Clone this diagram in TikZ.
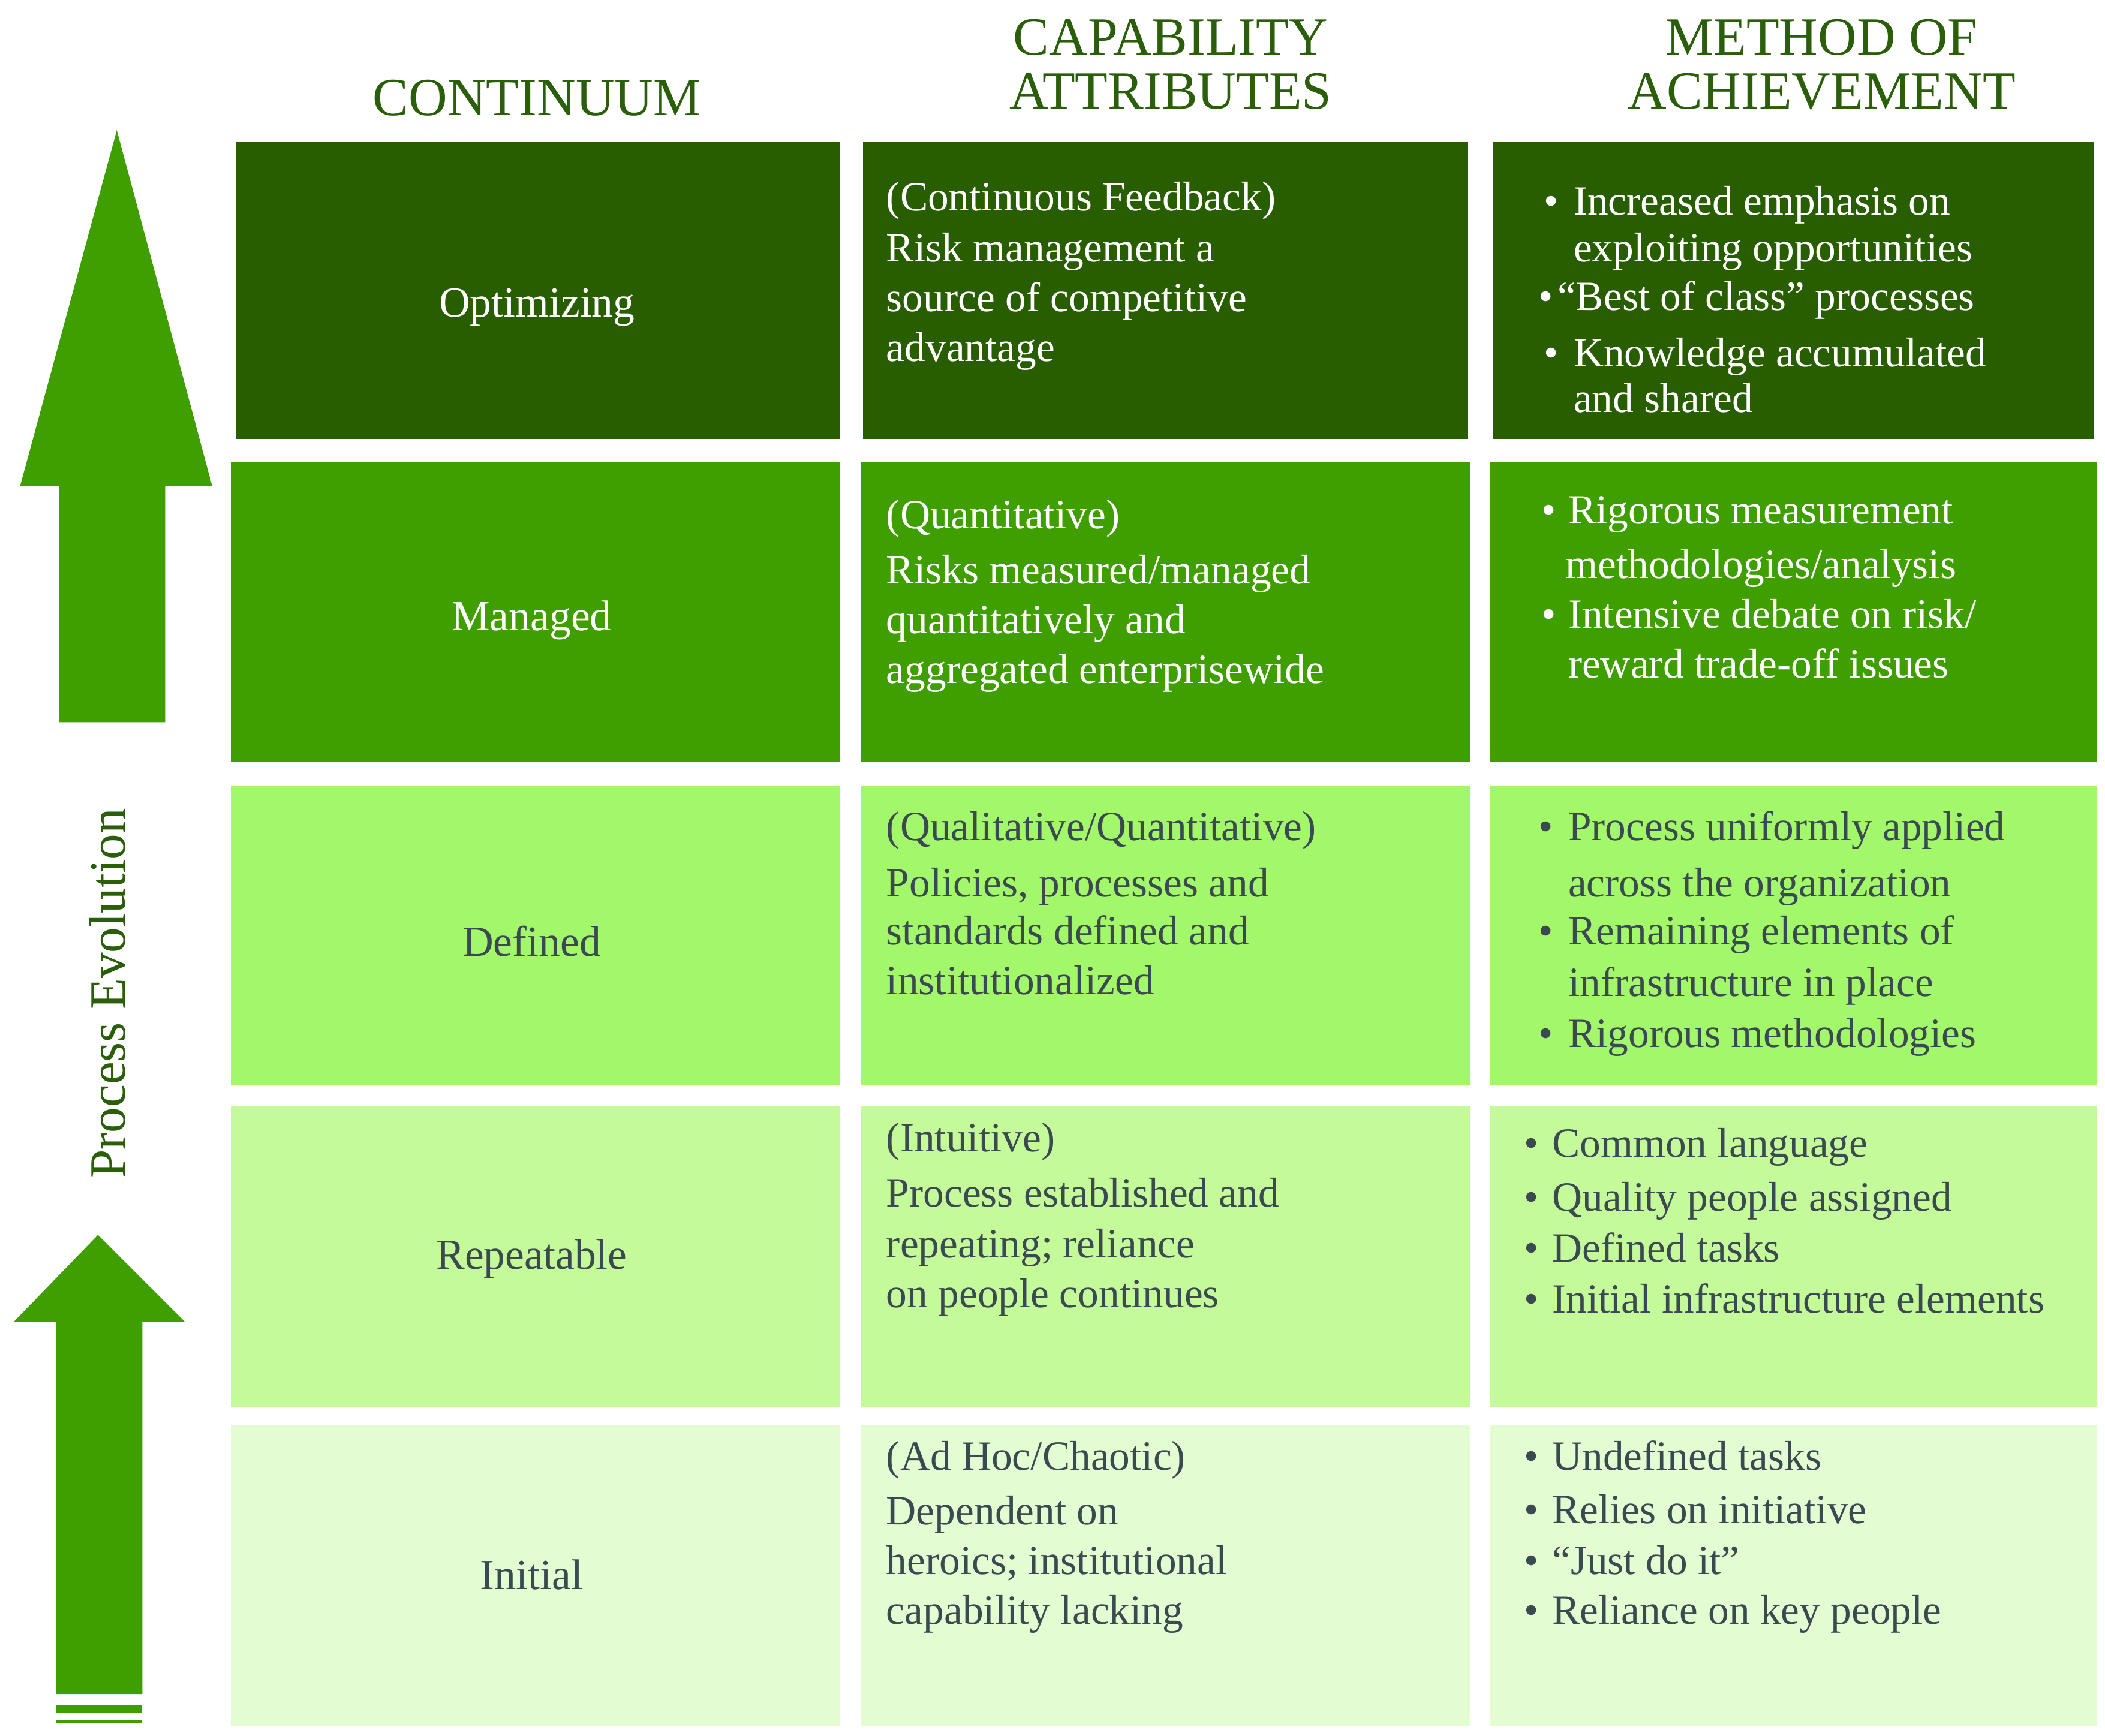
\documentclass[tikz,border=0pt]{standalone}
\usepackage{fontspec}
\setmainfont{Liberation Serif}
\definecolor{c1}{HTML}{285E00}
\definecolor{c2}{HTML}{3F9E00}
\definecolor{c3}{HTML}{A3F76B}
\definecolor{c4}{HTML}{C5FA9B}
\definecolor{c5}{HTML}{E3FCD2}
\definecolor{hd}{HTML}{2A5E0A}
\definecolor{tx}{HTML}{3B4A50}
\begin{document}
\begin{tikzpicture}[x=1pt,y=-1pt,
  box/.style={inner sep=0},
  ln/.style={anchor=base west,inner sep=0,font=\fontsize{31}{37}\selectfont},
  lab/.style={inner sep=0,font=\fontsize{32}{37}\selectfont},
  hdr/.style={inner sep=0,align=center,text=hd,font=\fontsize{40}{40}\selectfont}]
\useasboundingbox (0,0) rectangle (1568,1293);
% boxes
\fill[c1] (176,106) rectangle (626,327);
\fill[c1] (643,106) rectangle (1093,327);
\fill[c1] (1112,106) rectangle (1560,327);
\fill[c2] (172,344) rectangle (626,568);
\fill[c2] (641,344) rectangle (1095,568);
\fill[c2] (1110,344) rectangle (1562,568);
\fill[c3] (172,585) rectangle (626,808);
\fill[c3] (641,585) rectangle (1095,808);
\fill[c3] (1110,585) rectangle (1562,808);
\fill[c4] (172,824) rectangle (626,1048);
\fill[c4] (641,824) rectangle (1095,1048);
\fill[c4] (1110,824) rectangle (1562,1048);
\fill[c5] (172,1062) rectangle (626,1286);
\fill[c5] (641,1062) rectangle (1095,1286);
\fill[c5] (1110,1062) rectangle (1562,1286);
% headers
\node[hdr] (h1) at (400,73) {CONTINUUM};
\node[hdr] (h2) at (872,48) {CAPABILITY\\ATTRIBUTES};
\node[hdr] (h3) at (1357,48) {METHOD OF\\ACHIEVEMENT};
% arrows
\fill[c2] (87,97) -- (158,362) -- (123,362) -- (123,538) -- (44,538) -- (44,362) -- (15,362) -- cycle;
\fill[c2] (73,920) -- (138,985) -- (106,985) -- (106,1262) -- (42,1262) -- (42,985) -- (10,985) -- cycle;
\fill[c2] (42,1270) rectangle (106,1276);
\fill[c2] (42,1281) rectangle (106,1284);
\node[inner sep=0,text=hd,rotate=90,font=\fontsize{38}{38}\selectfont] (pe) at (80,740) {Process Evolution};
% col1
\node[lab,text=white] (l1) at (400,229) {Optimizing};
\node[lab,text=white] (l2) at (396,462) {Managed};
\node[lab,text=tx] (l3) at (396,701) {Defined};
\node[lab,text=tx] (l4) at (396,938) {Repeatable};
\node[lab,text=tx] (l5) at (396,1173) {Initial};
% col2
\begin{scope}[every node/.style={ln,text=white}]
\node at (660,157) {(Continuous Feedback)};
\node at (660,195) {Risk management a};
\node at (660,232) {source of competitive};
\node at (660,269) {advantage};
\node at (660,394) {(Quantitative)};
\node at (660,435) {Risks measured/managed};
\node at (660,472) {quantitatively and};
\node at (660,509) {aggregated enterprisewide};
\end{scope}
\begin{scope}[every node/.style={ln,text=tx}]
\node at (660,626) {(Qualitative/Quantitative)};
\node at (660,668) {Policies, processes and};
\node at (660,704) {standards defined and};
\node at (660,741) {institutionalized};
\node at (660,858) {(Intuitive)};
\node at (660,899) {Process established and};
\node at (660,937) {repeating; reliance};
\node at (660,974) {on people continues};
\node at (660,1095) {(Ad Hoc/Chaotic)};
\node at (660,1136) {Dependent on};
\node at (660,1173) {heroics; institutional};
\node at (660,1210) {capability lacking};
\end{scope}
% col3
\begin{scope}[every node/.style={ln,text=white}]
\node at (1150,160) {\textbullet};
\node at (1172,160) {Increased emphasis on};
\node at (1172,195) {exploiting opportunities};
\node at (1146,231) {\textbullet};
\node at (1160,231) {“Best of class” processes};
\node at (1150,273) {\textbullet};
\node at (1172,273) {Knowledge accumulated};
\node at (1172,307) {and shared};
\node at (1148,390) {\textbullet};
\node at (1168,390) {Rigorous measurement};
\node at (1166,431) {methodologies/analysis};
\node at (1148,468) {\textbullet};
\node at (1168,468) {Intensive debate on risk/};
\node at (1168,505) {reward trade-off issues};
\end{scope}
\begin{scope}[every node/.style={ln,text=tx}]
\node at (1146,626) {\textbullet};
\node at (1168,626) {Process uniformly applied};
\node at (1168,668) {across the organization};
\node at (1146,704) {\textbullet};
\node at (1168,704) {Remaining elements of};
\node at (1168,742) {infrastructure in place};
\node at (1146,780) {\textbullet};
\node at (1168,780) {Rigorous methodologies};
\node at (1135,862) {\textbullet};\node at (1156,862) {Common language};
\node at (1135,902) {\textbullet};\node at (1156,902) {Quality people assigned};
\node at (1135,940) {\textbullet};\node at (1156,940) {Defined tasks};
\node at (1135,978) {\textbullet};\node at (1156,978) {Initial infrastructure elements};
\node at (1135,1095) {\textbullet};\node at (1156,1095) {Undefined tasks};
\node at (1135,1135) {\textbullet};\node at (1156,1135) {Relies on initiative};
\node at (1135,1173) {\textbullet};\node at (1156,1173) {“Just do it”};
\node at (1135,1210) {\textbullet};\node at (1156,1210) {Reliance on key people};
\end{scope}
\end{tikzpicture}
\end{document}
